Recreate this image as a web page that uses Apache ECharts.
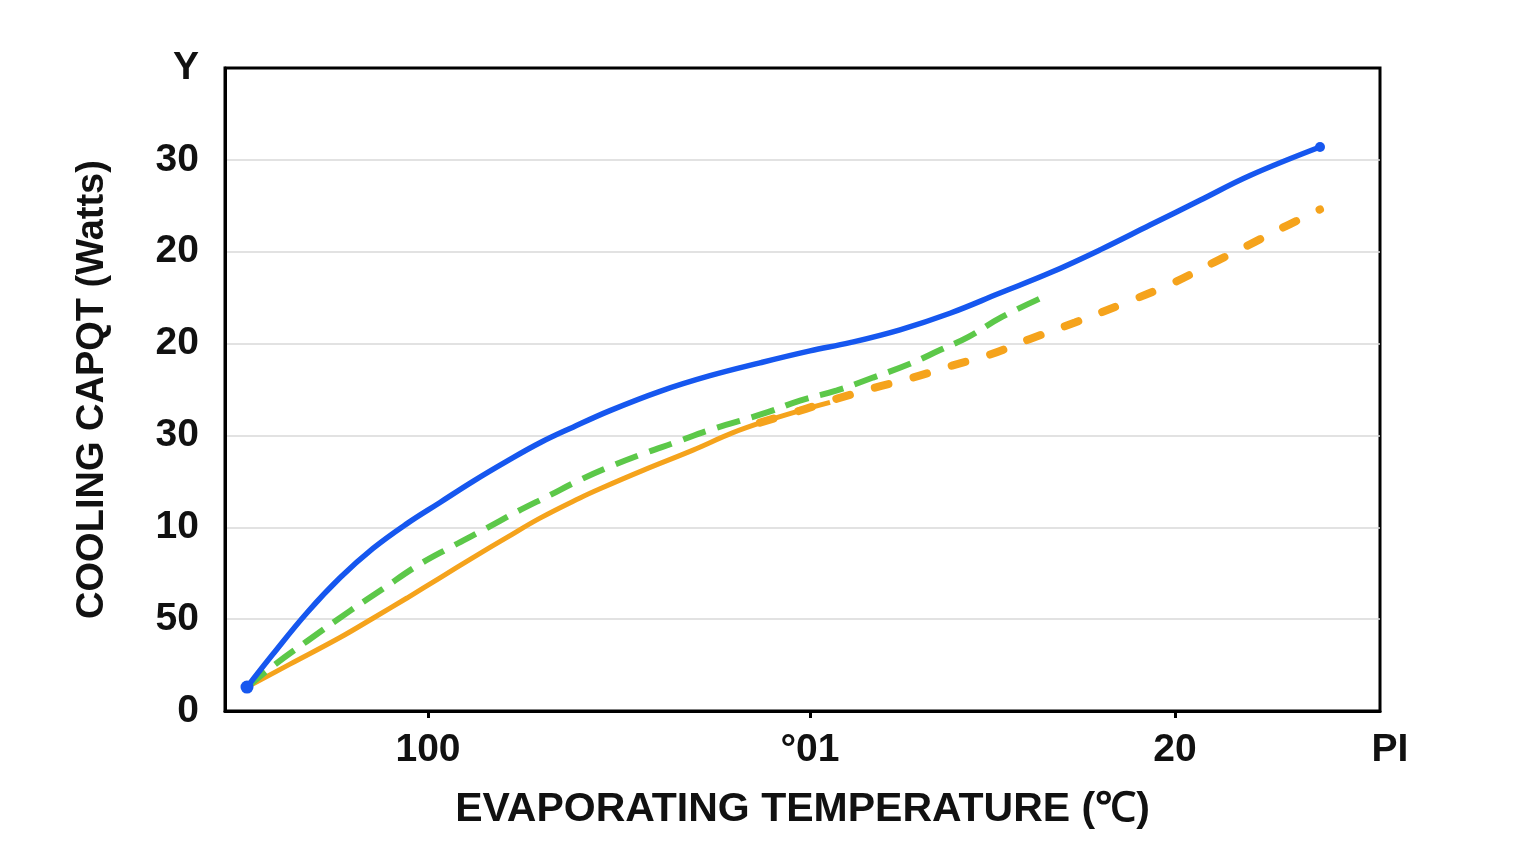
<!DOCTYPE html>
<html>
<head>
<meta charset="utf-8">
<title>Cooling capacity</title>
<script src="https://cdn.jsdelivr.net/npm/echarts@6/dist/echarts.min.js"></script>
<style>
  html, body { margin: 0; padding: 0; background: #fff; }
  #chart { width: 1536px; height: 864px; }
</style>
</head>
<body>
<div id="chart"></div>
<script>
// y tick labels, bottom to top (as printed on the chart)
var yLabels = ['0', '50', '10', '30', '20', '20', '30', 'Y'];
// x tick positions and labels
var xTickPos = [20.3, 58.5, 95];
var xLabels = ['100', '°01', '20'];
var xEndLabel = 'PI';

// series [x, y]
var blueData = [
    [2.2, 0.26], [4.8, 0.62], [8.2, 1.07], [11.5, 1.45], [14.8, 1.77], [18.2, 2.04],
    [21.5, 2.27], [24.8, 2.50], [28.2, 2.72], [31.5, 2.92], [34.8, 3.09], [38.5, 3.27],
    [43.5, 3.48], [48.5, 3.65], [53.5, 3.79], [58.5, 3.92], [62.5, 4.01], [67.5, 4.15],
    [72.5, 4.33], [77.5, 4.55], [82.5, 4.77], [87.5, 5.02], [92.5, 5.29], [97.5, 5.56],
    [102.5, 5.83], [109.5, 6.14]
];
var greenData = [
    [2.2, 0.26], [4.8, 0.49], [8.2, 0.76], [12.5, 1.09], [15.8, 1.33], [19.2, 1.58],
    [22.5, 1.78], [25.8, 1.97], [29.2, 2.17], [32.5, 2.35], [35.2, 2.50], [38.5, 2.66],
    [41.8, 2.80], [45.2, 2.93], [48.2, 3.05], [54.2, 3.25], [57.5, 3.38], [61.2, 3.49],
    [64.8, 3.63], [68.5, 3.78], [71.5, 3.93], [74.3, 4.07], [77.7, 4.29], [82.3, 4.53]
];
var orangeSolid = [
    [2.2, 0.26], [6.5, 0.51], [11.5, 0.80], [14.8, 1.01], [18.2, 1.23], [21.5, 1.45],
    [24.8, 1.67], [28.2, 1.89], [31.5, 2.10], [35.5, 2.32], [37.5, 2.42], [41.8, 2.62],
    [46.8, 2.84], [50.8, 3.03], [54.2, 3.16], [57.5, 3.27], [60.5, 3.36]
];
var orangeDashed = [
    [53.5, 3.14], [57.5, 3.27], [61.2, 3.40], [65, 3.52], [68.8, 3.63], [72.7, 3.76],
    [76.5, 3.88], [80.5, 4.05], [85, 4.23], [89.5, 4.42], [94.8, 4.66], [99, 4.89],
    [102.5, 5.08], [105, 5.22], [109.5, 5.46]
];

var font = '"Liberation Sans", Arial, sans-serif';
var chart = echarts.init(document.getElementById('chart'));

var lastBlue = blueData.length - 1;

chart.setOption({
    animation: false,
    backgroundColor: '#fff',
    grid: {
        left: 225, right: 156, top: 68, bottom: 153,
        show: true, borderColor: '#000', borderWidth: 3
    },
    xAxis: {
        type: 'value',
        min: 0,
        max: 115.5,
        name: 'EVAPORATING TEMPERATURE (℃)',
        nameLocation: 'middle',
        nameGap: 78,
        nameTextStyle: { fontFamily: font, fontWeight: 'bold', fontSize: 41, color: '#111' },
        axisLine: { show: true, lineStyle: { color: '#000', width: 3 } },
        axisTick: {
            show: true, inside: false, length: 7,
            customValues: xTickPos,
            lineStyle: { color: '#000', width: 3 }
        },
        axisLabel: {
            customValues: xTickPos.concat([115.5]),
            margin: 20,
            fontFamily: font, fontWeight: 'bold', fontSize: 39, color: '#111',
            formatter: function (v) {
                var i = xTickPos.indexOf(v);
                if (i >= 0) return xLabels[i];
                return '{pi|' + xEndLabel + '}';
            },
            rich: {
                pi: { fontFamily: font, fontWeight: 'bold', fontSize: 39, color: '#111', padding: [0, 0, 0, 20] }
            }
        },
        splitLine: { show: false }
    },
    yAxis: {
        type: 'value',
        min: 0,
        max: 7,
        interval: 1,
        name: 'COOLING CAPQT (Watts)',
        nameLocation: 'middle',
        nameGap: 113,
        nameRotate: 90,
        nameTextStyle: { fontFamily: font, fontWeight: 'bold', fontSize: 38, color: '#111' },
        axisLine: { show: true, lineStyle: { color: '#000', width: 3 } },
        axisTick: { show: false },
        axisLabel: {
            margin: 26,
            fontFamily: font, fontWeight: 'bold', fontSize: 39, color: '#111',
            formatter: function (v) { return yLabels[Math.round(v)]; }
        },
        splitLine: { show: true, showMinLine: false, showMaxLine: false, lineStyle: { color: '#d8d8d8', width: 1.5 } }
    },
    series: [
        {
            name: 'orange solid', type: 'line', data: orangeSolid, smooth: 0.4,
            symbol: 'none', z: 2,
            lineStyle: { color: '#f5a31c', width: 5 }
        },
        {
            name: 'orange dashed', type: 'line', data: orangeDashed, smooth: 0.4,
            symbol: 'none', z: 2,
            lineStyle: { color: '#f5a31c', width: 8, type: [14, 26], cap: 'round' }
        },
        {
            name: 'green', type: 'line', data: greenData, smooth: 0.4,
            symbol: 'none', z: 3,
            lineStyle: { color: '#5cc849', width: 6, type: [24, 12] }
        },
        {
            name: 'blue', type: 'line', data: blueData, smooth: 0.4,
            symbol: function (value, params) {
                return (params.dataIndex === 0 || params.dataIndex === lastBlue) ? 'circle' : 'none';
            },
            symbolSize: function (value, params) {
                return params.dataIndex === 0 ? 13 : 10;
            },
            showAllSymbol: true, z: 4,
            itemStyle: { color: '#1657ef' },
            lineStyle: { color: '#1657ef', width: 5.5 }
        }
    ]
});
</script>
</body>
</html>
